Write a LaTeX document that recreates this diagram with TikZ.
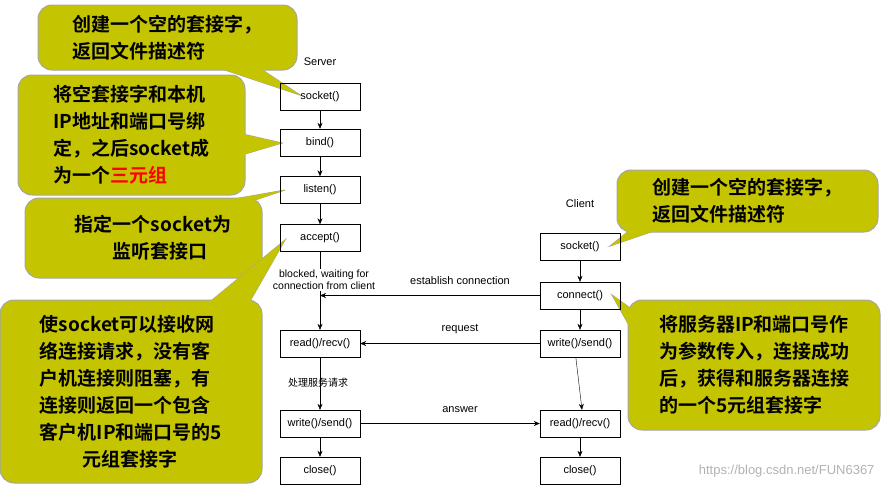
\documentclass[tikz,border=0pt]{standalone}
\usepackage{fontspec}
\setmainfont{Liberation Sans}
\newfontfamily\cjk{Noto Sans CJK SC}[BoldFont={Noto Sans CJK SC Bold}]
\usetikzlibrary{arrows.meta}
\definecolor{olive}{HTML}{C4C400}
\begin{document}
\begin{tikzpicture}[x=1pt,y=-1pt,
 box/.style={draw,thin,minimum width=80pt,minimum height=27pt,inner sep=0pt,font=\fontsize{11}{13}\selectfont},
 arr/.style={-{Stealth[length=6pt,width=5pt]},thin},
 lab/.style={font=\fontsize{11}{13}\selectfont,align=center},
 cbg/.style={fill=olive,draw=gray!70,line width=1pt,rounded corners=14pt},
 ctri/.style={fill=olive,draw=gray!70,line width=1pt},
 ctx/.style={font=\cjk\bfseries\fontsize{19}{27}\selectfont,align=left}]
\useasboundingbox (0,0) rectangle (885,491);
% callouts
\newcommand\callout[7]{% x1 y1 x2 y2 basepts tip text
 \filldraw[ctri] #5 -- #6 -- cycle;
 \filldraw[cbg] (#1,#2) rectangle (#3,#4);
 \fill[olive] #5 -- #6 -- cycle;
 \node[ctx] at ({(#1+#3)/2},{(#2+#4)/2}) {#7};}
\callout{38}{5}{297}{70}{(180,55) -- (240,55)}{(300,95)}{创建一个空的套接字，\\返回文件描述符}
\callout{18}{75}{245}{195}{(225,130) -- (225,160)}{(282,143)}{将空套接字和本机\\IP地址和端口号绑\\定，之后socket成\\为一个\textcolor{red}{三元组}}
\callout{25}{198}{262}{278}{(200,205) -- (240,205)}{(285,190)}{\quad 指定一个socket为\\\qquad\quad 监听套接口}
\callout{0}{300}{262}{483}{(200,310) -- (245,310)}{(285,240)}{使socket可以接收网\\络连接请求，没有客\\户机连接则阻塞，有\\连接则返回一个包含\\客户机IP和端口号的5\\\qquad\ 元组套接字}
\callout{617}{170}{878}{232}{(640,222) -- (680,222)}{(610,246)}{创建一个空的套接字，\\返回文件描述符}
\callout{628}{300}{880}{430}{(640,315) -- (640,345)}{(612,295)}{将服务器IP和端口号作\\为参数传入，连接成功\\后，获得和服务器连接\\的一个5元组套接字}
% server
\node[lab] at (320,62) {Server};
\node[box] (ss) at (320,96.5) {socket()};
\node[box] (sb) at (320,142.5) {bind()};
\node[box] (sl) at (320,190) {listen()};
\node[box] (sa) at (320,238) {accept()};
\node[box] (sr) at (320,343.5) {read()/recv()};
\node[box] (sw) at (320,423.5) {write()/send()};
\node[box] (sc) at (320,470.5) {close()};
\draw[arr] (ss) -- (sb); \draw[arr] (sb) -- (sl); \draw[arr] (sl) -- (sa);
\draw[arr] (sa) -- (sr); \draw[arr] (sr) -- (sw); \draw[arr] (sw) -- (sc);
\node[lab,fill=white,inner sep=1pt,font=\fontsize{10.5}{12}\selectfont] at (324,280) {blocked, waiting for\\connection from client};
\node[font=\cjk\fontsize{10}{12}\selectfont] at (318,383) {处理服务请求};
% client
\node[lab] at (580,204) {Client};
\node[box] (cs) at (580,247) {socket()};
\node[box] (cc) at (580,295.5) {connect()};
\node[box] (cw) at (580,343.5) {write()/send()};
\node[box] (cr) at (580,423.5) {read()/recv()};
\node[box] (ccl) at (580,470.5) {close()};
\draw[arr] (cs) -- (cc); \draw[arr] (cc) -- (cw);
\draw[arr] (cw.south west)++(36,0) -- ([xshift=2pt]cr.north); \draw[arr] (cr) -- (ccl);
% connections
\coordinate (j) at (320,295.5);
\draw[arr] (cc.west) -- (j);
\node[lab] at (460,281) {establish connection};
\draw[arr] (cw.west) -- (sr.east);
\node[lab] at (460,329) {request};
\draw[arr] (sw.east) -- (cr.west);
\node[lab] at (460,410) {answer};
\node[anchor=east,text=gray!60,font=\fontsize{13}{15}\selectfont] at (878,471) {https://blog.csdn.net/FUN6367};
\end{tikzpicture}
\end{document}
